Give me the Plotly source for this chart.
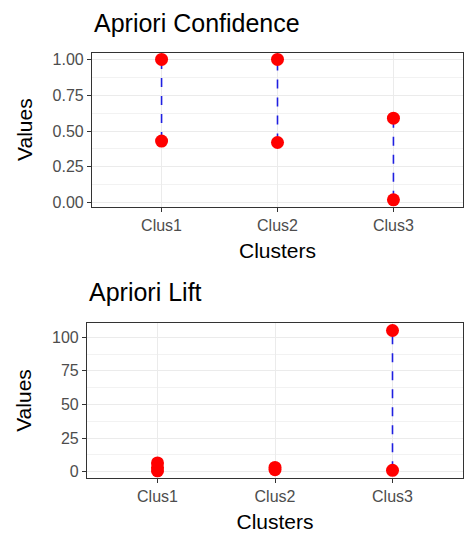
import plotly.graph_objects as go
from plotly import subplots as sp

clusters = ["Clus1", "Clus2", "Clus3"]

# values, one list per cluster
conf_values = [[0.43, 1.00], [0.42, 1.00], [0.02, 0.59]]
lift_values = [[0.6, 3.0, 6.5], [1.5, 3.2], [1.0, 105.0]]

conf_ticks = [0, 0.25, 0.5, 0.75, 1.0]
lift_ticks = [0, 25, 50, 75, 100]

RED = "#FF0000"
BLUE = "#1F1FE0"
FONT = "Liberation Sans, Arial, sans-serif"

# page body has an 8px margin, so the figure is 16px smaller than the window
W, H = 466, 529

fig = sp.make_subplots(rows=2, cols=1)


def add_panel(values, row):
    # dashed segment from min to max, then the points on top
    for name, vals in zip(clusters, values):
        fig.add_trace(go.Scatter(x=[name, name], y=[min(vals), max(vals)], mode="lines",
                                 line=dict(color=BLUE, width=1.6, dash="dash"),
                                 showlegend=False, hoverinfo="skip"), row=row, col=1)
    for name, vals in zip(clusters, values):
        fig.add_trace(go.Scatter(x=[name] * len(vals), y=vals, mode="markers",
                                 marker=dict(color=RED, size=13),
                                 showlegend=False), row=row, col=1)


add_panel(conf_values, 1)
add_panel(lift_values, 2)

axis_common = dict(showline=True, linecolor="#333333", linewidth=1.2, mirror=True,
                   ticks="outside", ticklen=4, tickcolor="#333333", tickwidth=1,
                   tickfont=dict(family=FONT, size=16, color="#4D4D4D"),
                   showgrid=True, gridcolor="#EBEBEB", gridwidth=1, zeroline=False)

fig.update_xaxes(**axis_common, categoryorder="array", categoryarray=clusters,
                 range=[-0.6, 2.6])
fig.update_yaxes(**axis_common)

title_font = dict(family=FONT, size=21, color="black")
fig.update_xaxes(domain=[84 / W, 455 / W],
                 title=dict(text="Clusters", font=title_font, standoff=10), row=1, col=1)
fig.update_xaxes(domain=[79 / W, 455 / W],
                 title=dict(text="Clusters", font=title_font, standoff=10), row=2, col=1)

fig.update_yaxes(domain=[1 - 200 / H, 1 - 44 / H], range=[-0.028, 1.048],
                 tickvals=conf_ticks, tickformat=".2f",
                 title=dict(text="Values", font=title_font, standoff=14),
                 minor=dict(dtick=0.125, tick0=0.125, showgrid=True, gridcolor="#F2F2F2", ticks=""),
                 row=1, col=1)
fig.update_yaxes(domain=[1 - 474 / H, 1 - 318 / H], range=[-4.4, 110.3],
                 tickvals=lift_ticks,
                 title=dict(text="Values", font=title_font, standoff=14),
                 minor=dict(dtick=12.5, tick0=12.5, showgrid=True, gridcolor="#F2F2F2", ticks=""),
                 row=2, col=1)

fig.update_layout(
    width=W, height=H,
    margin=dict(l=0, r=0, t=0, b=0),
    paper_bgcolor="white", plot_bgcolor="white",
    font=dict(family=FONT),
    annotations=[
        dict(text="Apriori Confidence", x=84 / W, y=1 - 14 / H, xref="paper", yref="paper",
             xanchor="left", yanchor="middle", showarrow=False,
             font=dict(family=FONT, size=25, color="black")),
        dict(text="Apriori Lift", x=79 / W, y=1 - 286 / H, xref="paper", yref="paper",
             xanchor="left", yanchor="middle", showarrow=False,
             font=dict(family=FONT, size=25, color="black")),
    ],
)

fig.write_html("out.html")
